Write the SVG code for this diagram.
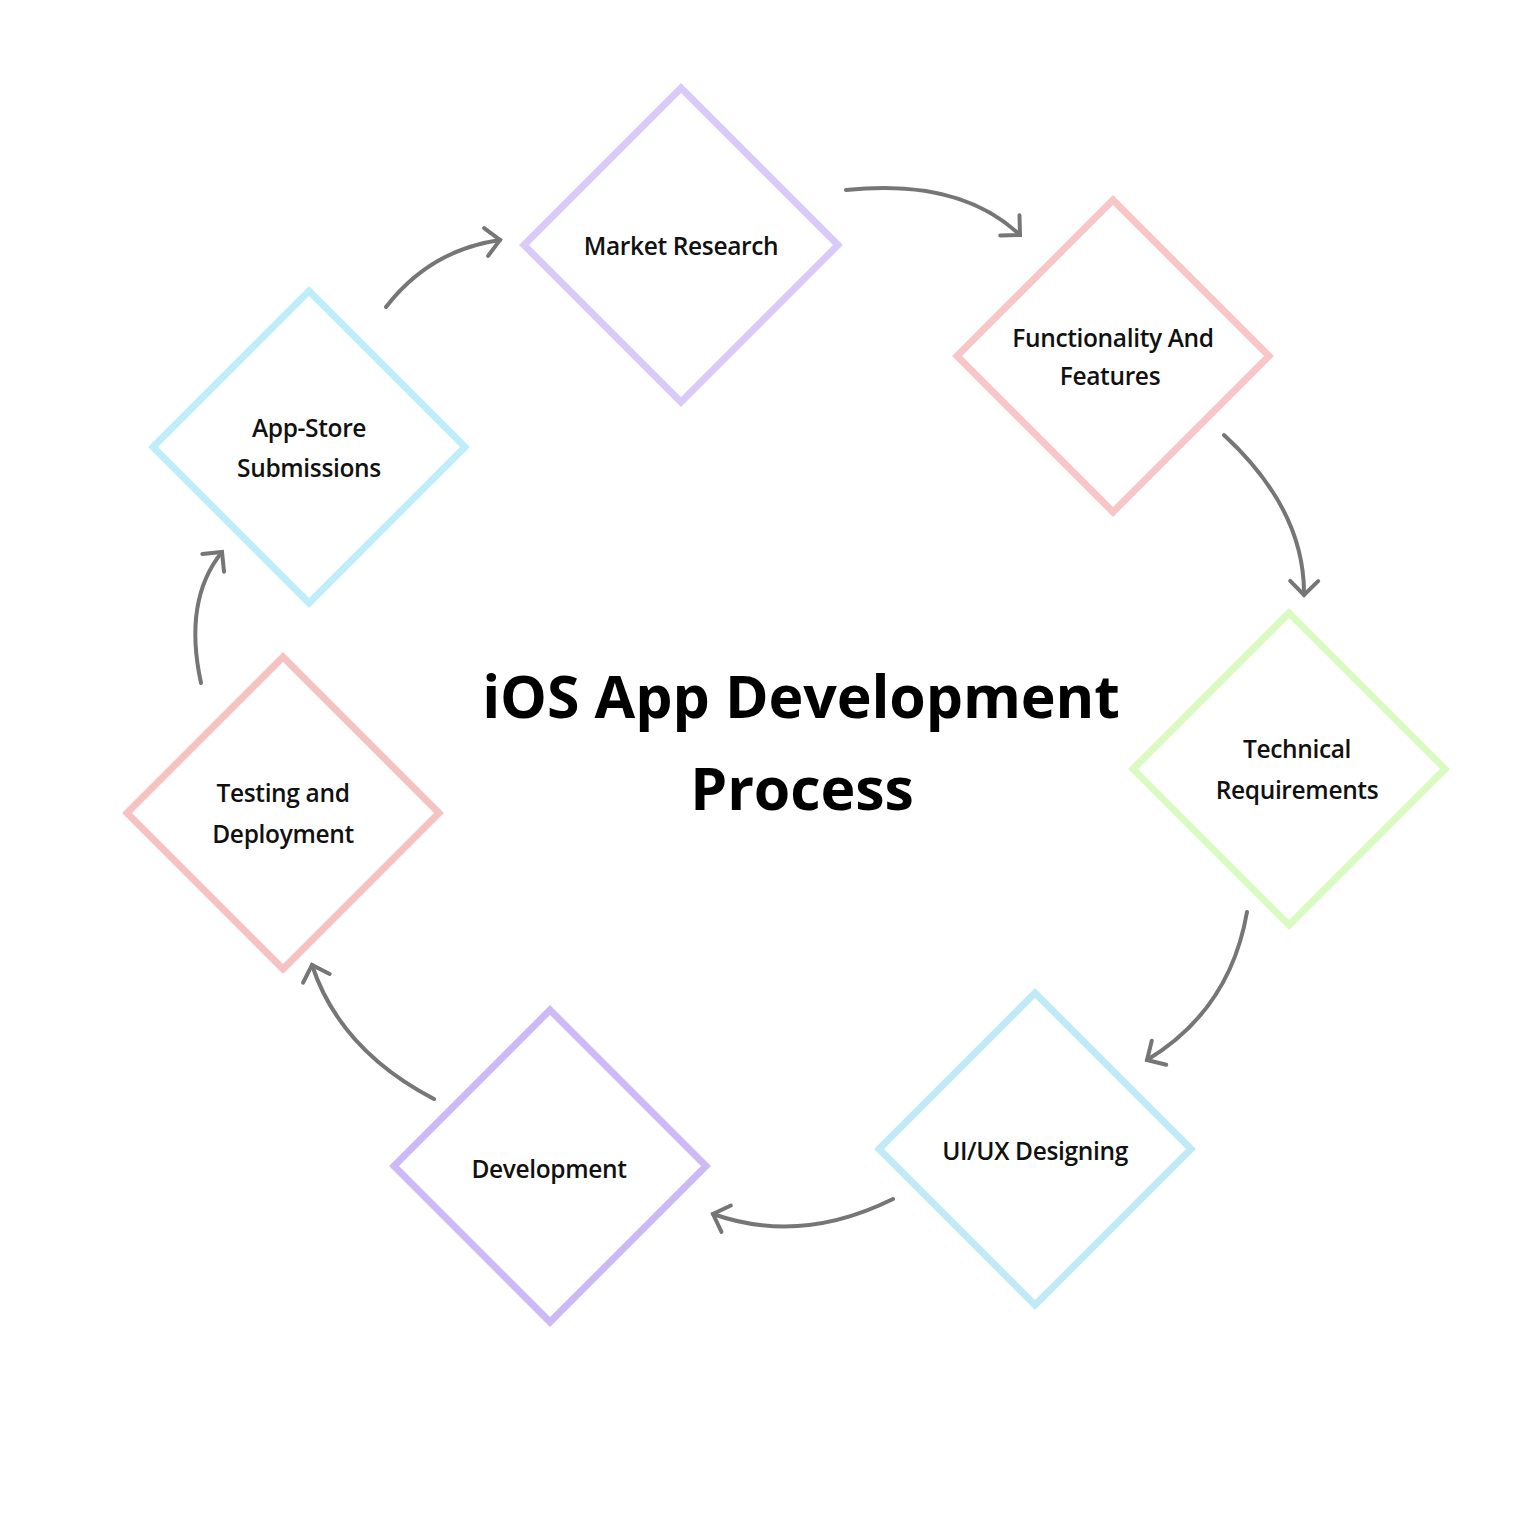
<svg xmlns="http://www.w3.org/2000/svg" width="1516" height="1536" viewBox="0 0 1516 1536">
<defs>
<style>
.d{fill:none;stroke-width:7;stroke-linejoin:miter}
.lbl{font-family:"Open Sans","Noto Sans",sans-serif;font-size:24.5px;font-weight:600;letter-spacing:-0.35px;fill:#111;text-anchor:middle}
.title{font-family:"Open Sans","Noto Sans",sans-serif;font-size:59px;font-weight:700;letter-spacing:-0.1px;fill:#000;text-anchor:middle}
.c{fill:none;stroke:#767676;stroke-width:4;stroke-linecap:round}
</style>
<marker id="ah" viewBox="-20 -20 40 40" markerWidth="40" markerHeight="40" markerUnits="userSpaceOnUse" orient="auto" refX="0" refY="0">
<path d="M-14,-14 L0,0 L-14,14" fill="none" stroke="#767676" stroke-width="4" stroke-linecap="round" stroke-linejoin="miter"/>
</marker>
</defs>
<rect width="1516" height="1536" fill="#fff"/>
<g id="connectors">
<path class="c" d="M846,190 Q960,178 1020,235" marker-end="url(#ah)"/>
<path class="c" d="M1224,435 Q1305,510 1304,595" marker-end="url(#ah)"/>
<path class="c" d="M1247,912 Q1230,1010 1147,1060" marker-end="url(#ah)"/>
<path class="c" d="M893,1199 Q800,1245 713,1214" marker-end="url(#ah)"/>
<path class="c" d="M434,1099 Q340,1050 312,965" marker-end="url(#ah)"/>
<path class="c" d="M201,683 Q183,600 222,552" marker-end="url(#ah)"/>
<path class="c" d="M386,307 Q430,250 500,240" marker-end="url(#ah)"/>
</g>
<g id="market-research">
<path class="d" stroke="#dacafa" d="M681,88 L838,245 L681,402 L524,245 Z"/>
<text class="lbl" x="681" y="255">Market Research</text>
</g>
<g id="functionality">
<path class="d" stroke="#f8c6c6" d="M1113,200 L1269,356 L1113,512 L957,356 Z"/>
<text class="lbl" x="1113" y="347">Functionality And</text>
<text class="lbl" x="1110" y="385">Features</text>
</g>
<g id="technical">
<path class="d" stroke="#d9fbc2" d="M1289,613 L1445,769 L1289,925 L1133,769 Z"/>
<text class="lbl" x="1297" y="758">Technical</text>
<text class="lbl" x="1297" y="799">Requirements</text>
</g>
<g id="uiux">
<path class="d" stroke="#c0eaf6" d="M1035,993 L1191,1149 L1035,1305 L879,1149 Z"/>
<text class="lbl" x="1035" y="1160">UI/UX Designing</text>
</g>
<g id="development">
<path class="d" stroke="#cdb9f6" d="M550,1010 L706,1166 L550,1322 L394,1166 Z"/>
<text class="lbl" x="549" y="1178">Development</text>
</g>
<g id="testing">
<path class="d" stroke="#f6c2c2" d="M283,657 L439,813 L283,969 L127,813 Z"/>
<text class="lbl" x="283" y="802">Testing and</text>
<text class="lbl" x="283" y="843">Deployment</text>
</g>
<g id="appstore">
<path class="d" stroke="#bfeefb" d="M309,291 L465,447 L309,603 L153,447 Z"/>
<text class="lbl" x="309" y="437">App-Store</text>
<text class="lbl" x="309" y="477">Submissions</text>
</g>
<g id="title">
<text class="title" x="801" y="718">iOS App Development</text>
<text class="title" x="802" y="810">Process</text>
</g>
</svg>
